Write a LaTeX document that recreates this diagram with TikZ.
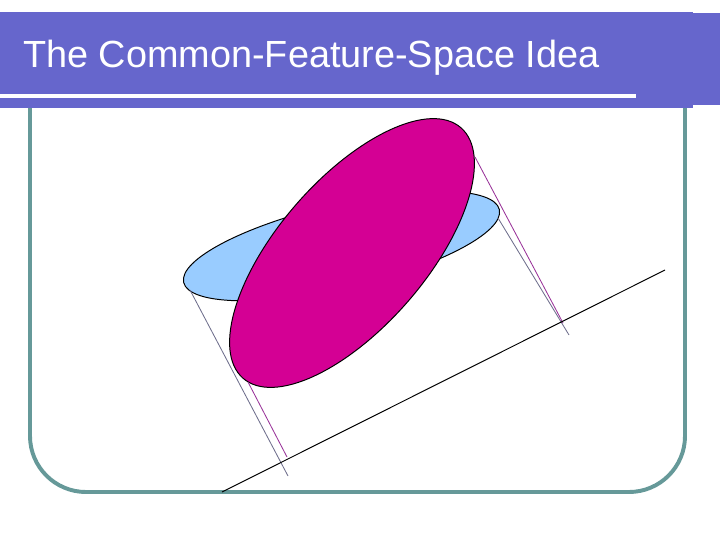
\documentclass[tikz,border=0pt]{standalone}
\usepackage{fontspec}
\setmainfont{Liberation Sans}
\definecolor{barblue}{RGB}{102,102,204}
\definecolor{frameteal}{RGB}{102,153,153}
\definecolor{classblue}{RGB}{153,204,255}
\definecolor{classpink}{RGB}{212,0,148}
\definecolor{projpurple}{RGB}{153,51,153}
\definecolor{projgray}{RGB}{110,110,140}
\begin{document}
\begin{tikzpicture}[
    x=0.025cm, y=-0.025cm,
    frame/.style = {draw=frameteal, line width=2.8pt, rounded corners=1.4cm},
    blob/.style = {draw=black, line width=0.7pt},
    proj/.style = {line width=0.6pt}
    ]
    \useasboundingbox (0,0) rectangle (720,540);
    % frame and title bar
    \draw[frame] (30,100) -- (30,492) -- (685,492) -- (685,100);
    \fill[barblue] (0,12) rectangle (693,108);
    \fill[barblue] (693,13) rectangle (720,105);
    \draw[white, line width=2.8pt] (0,96) -- (636,96);
    \node[anchor=base west, inner sep=0pt, text=white, font=\fontsize{26.9}{31}\selectfont] (title) at (23,67) {The Common-Feature-Space Idea};
    % end points of the projections
    \coordinate (axisL) at (222,492);
    \coordinate (axisR) at (665,270);
    \coordinate (blueL) at (190,290);
    \coordinate (blueLfoot) at (288,476);
    \coordinate (blueR) at (498,218);
    \coordinate (blueRfoot) at (569,335);
    \coordinate (pinkL) at (248,382);
    \coordinate (pinkLfoot) at (287,457);
    \coordinate (pinkR) at (475,157);
    \coordinate (pinkRfoot) at (563,323);
    % the two classes
    \draw[blob, fill=classblue, shift={(341.5,246)}, rotate=13] (0,0) ellipse [x radius=162, y radius=42];
    \draw[blob, fill=classpink, shift={(352,253)}, rotate=49] (0,0) ellipse [x radius=166, y radius=74];
    \draw[proj, projgray] (blueL) -- (blueLfoot);
    \draw[proj, projgray] (blueR) -- (blueRfoot);
    \draw[proj, projpurple] (pinkL) -- (pinkLfoot);
    \draw[proj, projpurple] (pinkR) -- (pinkRfoot);
    % common feature axis
    \draw[black, line width=0.7pt] (axisL) -- (axisR);
\end{tikzpicture}
\end{document}
